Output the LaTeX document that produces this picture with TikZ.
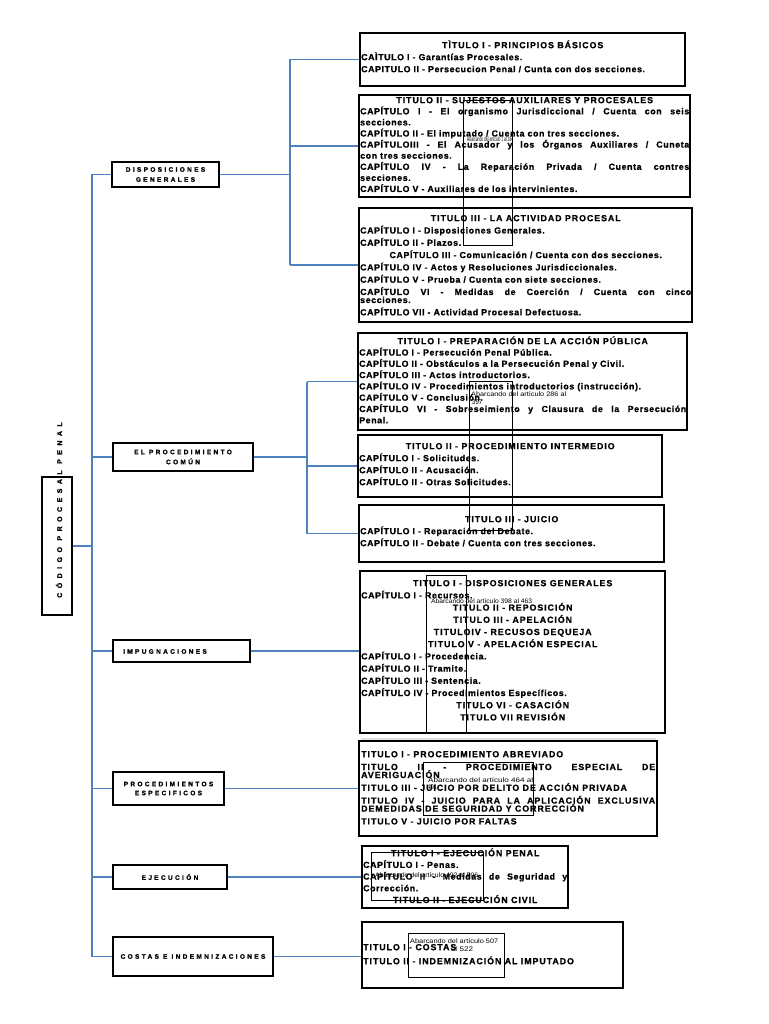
\documentclass[tikz,border=0pt]{standalone}
\usepackage{fontspec}
\usepackage{graphicx}
\setmainfont{Liberation Sans}
\newfontfamily\bodyf[LetterSpace=7,FakeBold=1]{Liberation Sans}
\newfontfamily\titf[LetterSpace=11,FakeBold=1]{Liberation Sans}
\newfontfamily\lonef[LetterSpace=36,FakeBold=1.2]{Liberation Sans}
\newfontfamily\rootf[LetterSpace=64,FakeBold=1.2]{Liberation Sans}
\definecolor{connblue}{RGB}{79,129,189}
\setlength\parindent{0pt}
\setlength\parskip{0pt}
\lineskiplimit=-20pt\relax
\newcommand\Fs{\vrule height8.5pt width0pt depth0pt\relax}
\newcommand\Tl[1]{\centerline{\titf #1}}
\newcommand\Cl[1]{\centerline{#1}}
\newcommand\Ln[1]{#1\par}
\newcommand\Lt[1]{{\titf #1\par}}
\newcommand\Wp[3]{\vskip#1pt{\baselineskip=#2pt\relax #3\par}}
\newcommand\Ab[2]{\resizebox{#1pt}{4.8pt}{#2}}
\newcommand\PsetB{\setlength\parskip{4.8pt}}
\tikzset{
  conn/.style={draw=connblue, line width=1.1pt},
  bx/.style={draw=black, line width=2pt, inner sep=0pt},
  ovb/.style={draw=black, line width=0.9pt, inner sep=0pt},
  lone/.style={bx, align=center, font=\lonef\bfseries\fontsize{6.5}{#1}\selectfont},
  lone/.default=9,
  tx/.style={inner sep=0pt, anchor=north west, align=justify,
    font=\bodyf\bfseries\fontsize{8.8}{#1}\selectfont},
  tx/.default=12,
  ovt/.style={inner sep=0pt, anchor=base west, font=\fontsize{6}{6}\selectfont},
}
\begin{document}
\begin{tikzpicture}[x=1pt,y=-1pt]
\useasboundingbox (0,0) rectangle (768,1024);

% root
\node[bx, minimum width=30pt, minimum height=138pt] (root) at (57,546) {};
\node[rotate=90, inner sep=0pt, font=\rootf\bfseries\fontsize{7}{8}\selectfont] (roott) at (59,510) {CÓDIGO PROCESAL PENAL};
\coordinate (tk) at (92,546);

% level 1
\node[lone=10, minimum width=107pt, minimum height=25pt] (dg) at (165.5,174.5) {DISPOSICIONES\\GENERALES};
\node[lone=10, minimum width=140pt, minimum height=28pt] (epc) at (183,457) {EL PROCEDIMIENTO\\COMÚN};
\node[bx, minimum width=137pt, minimum height=22pt] (imp) at (181.5,651) {};
\node[inner sep=0pt, font=\lonef\bfseries\fontsize{6.5}{9}\selectfont] (impt) at (165,651.5) {IMPUGNACIONES};
\node[lone=9, minimum width=111pt, minimum height=33pt] (pe) at (168.5,788.5) {PROCEDIMIENTOS\\ESPECIFICOS};
\node[lone, minimum width=114pt, minimum height=24pt] (ej) at (170,877) {EJECUCIÓN};
\node[lone, minimum width=160pt, minimum height=39pt] (cos) at (193,956.5) {COSTAS E INDEMNIZACIONES};

% level 2 boxes
\node[bx, minimum width=325pt, minimum height=53pt] (b1) at (522.5,59.5) {};
\node[bx, minimum width=331pt, minimum height=102pt] (b2) at (524.5,146) {};
\node[bx, minimum width=333pt, minimum height=114pt] (b3) at (525.5,265) {};
\node[bx, minimum width=329pt, minimum height=97pt] (b4) at (522.5,381.5) {};
\node[bx, minimum width=304pt, minimum height=62pt] (b5) at (510,466) {};
\node[bx, minimum width=305pt, minimum height=57pt] (b6) at (511.5,533.5) {};
\node[bx, minimum width=305pt, minimum height=162pt] (b7) at (512.5,652) {};
\draw[black!12, line width=1.2pt] ([xshift=2pt,yshift=-5pt]b7.south west) -- ([xshift=-10pt,yshift=-5pt]b7.south east);
\node[bx, minimum width=298pt, minimum height=95pt] (b8) at (508,788.5) {};
\node[bx, minimum width=206pt, minimum height=62pt] (b9) at (465,877) {};
\node[bx, minimum width=261pt, minimum height=66pt] (b10) at (492.5,955) {};

% connectors
\draw[conn] (root.east) -- (tk);
\draw[conn] (tk |- dg.west) -- (tk |- cos.west);
\foreach \n in {dg,epc,imp,pe,ej,cos} \draw[conn] (tk |- \n.west) -- (\n.west);
\coordinate (dgs) at (290,174.5);
\draw[conn] (dg.east) -- (dgs);
\draw[conn] (dgs |- b1.west) -- (dgs |- b3.west);
\foreach \n in {b1,b2,b3} \draw[conn] (dgs |- \n.west) -- (\n.west);
\coordinate (eps) at (307,457);
\draw[conn] (epc.east) -- (eps);
\draw[conn] (eps |- b4.west) -- (eps |- b6.west);
\foreach \n in {b4,b5,b6} \draw[conn] (eps |- \n.west) -- (\n.west);
\draw[conn] (imp.east) -- (imp.east -| b7.west);
\draw[conn] (pe.east) -- (pe.east -| b8.west);
\draw[conn] (ej.east) -- (ej.east -| b9.west);
\draw[conn] (cos.east) -- (cos.east -| b10.west);

% texts
\node[tx=12, text width=323pt] (t1) at (361,39.5) {%
\Tl{\Fs TÌTULO I - PRINCIPIOS BÁSICOS}
\Ln{CAÌTULO I - Garantías Procesales.}
\Ln{CAPITULO II - Persecucion Penal / Cunta con dos secciones.}};

\node[tx=11.1, text width=329pt] (t2) at (360,94.5) {%
\Tl{\Fs TITULO II - SUJESTOS AUXILIARES Y PROCESALES}
\Ln{CAPÍTULO I - El organismo Jurisdiccional / Cuenta con seis\linebreak secciones.}
\Ln{CAPÍTULO II - El imputado / Cuenta con tres secciones.}
\Ln{CAPÍTULOIII - El Acusador y los Órganos Auxiliares / Cuneta\linebreak con tres secciones.}
\Ln{CAPÍTULO IV - La Reparación Privada / Cuenta contres\linebreak secciones.}
\Ln{CAPÍTULO V - Auxiliares de los intervinientes.}};

\node[tx=12.3, text width=331pt] (t3) at (360,212.5) {%
\Tl{\Fs TITULO III - LA ACTIVIDAD PROCESAL}
\Ln{CAPÍTULO I - Disposiciones Generales.}
\Ln{CAPÍTULO II - Plazos.}
\Cl{CAPÍTULO III - Comunicación / Cuenta con dos secciones.}
\Ln{CAPÍTULO IV - Actos y Resoluciones Jurisdiccionales.}
\Ln{CAPÍTULO V - Prueba / Cuenta con siete secciones.}
\Wp{4.3}{8}{CAPÍTULO VI - Medidas de Coerción / Cuenta con cinco\linebreak secciones.}
\Ln{CAPÍTULO VII - Actividad Procesal Defectuosa.}};

\node[tx=11.3, text width=327pt] (t4) at (359,335.5) {%
\Tl{\Fs TITULO I - PREPARACIÓN DE LA ACCIÓN PÚBLICA}
\Ln{CAPÍTULO I - Persecución Penal Pública.}
\Ln{CAPÍTULO II - Obstáculos a la Persecución Penal y Civil.}
\Ln{CAPÍTULO III - Actos introductorios.}
\Ln{CAPÍTULO IV - Procedimientos introductorios (instrucción).}
\Ln{CAPÍTULO V - Conclusión.}
\Ln{CAPÍTULO VI - Sobreseimiento y Clausura de la Persecución\linebreak Penal.}};

\node[tx=12, text width=302pt] (t5) at (359,440.5) {%
\Tl{\Fs TITULO II - PROCEDIMIENTO INTERMEDIO}
\Ln{CAPÍTULO I - Solicitudes.}
\Ln{CAPÍTULO II - Acusación.}
\Ln{CAPÍTULO II - Otras Solicitudes.}};

\node[tx=12, text width=303pt] (t6) at (360,513.5) {%
\Tl{\Fs TITULO III - JUICIO}
\Ln{CAPÍTULO I - Reparación del Debate.}
\Ln{CAPÍTULO II - Debate / Cuenta con tres secciones.}};

\node[tx=12.2, text width=303pt] (t7) at (361,577.5) {%
\Tl{\Fs TITULO I - DISPOSICIONES GENERALES}
\Ln{CAPÍTULO I - Recursos.}
\Tl{TITULO II - REPOSICIÓN}
\Tl{TITULO III - APELACIÓN}
\Tl{TITULOIV - RECUSOS DEQUEJA}
\Tl{TITULO V - APELACIÓN ESPECIAL}
\Ln{CAPÍTULO I - Procedencia.}
\Ln{CAPÍTULO II - Tramite.}
\Ln{CAPÍTULO III - Sentencia.}
\Ln{CAPÍTULO IV - Procedimientos Específicos.}
\Tl{TITULO VI - CASACIÓN}
\Tl{TITULO VII REVISIÓN}};

\node[tx=8, text width=294pt] (t8) at (361,748.5) {\PsetB
\Lt{\Fs TITULO I - PROCEDIMIENTO ABREVIADO}
\Lt{TITULO II - PROCEDIMIENTO ESPECIAL DE\linebreak AVERIGUACIÓN}
\Lt{TITULO III - JUICIO POR DELITO DE ACCIÓN PRIVADA}
\Lt{TITULO IV - JUICIO PARA LA APLICACIÓN EXCLUSIVA\linebreak DEMEDIDAS DE SEGURIDAD Y CORRECCIÓN}
\Lt{TITULO V - JUICIO POR FALTAS}};

\node[tx=11.7, text width=204pt] (t9) at (363,847.5) {%
\Tl{\Fs TITULO I - EJECUCIÓN PENAL}
\Ln{CAPÍTULO I - Penas.}
\Ln{CAPÍTULO II - Medidas de Seguridad y\linebreak Corrección.}
\Tl{TITULO II - EJECUCIÓN CIVIL}};

\node[tx=14, text width=258pt] (t10) at (363,941.5) {%
\Lt{\Fs TITULO I - COSTAS}
\Lt{TITULO II - INDEMNIZACIÓN AL IMPUTADO}};

% overlay boxes
\node[ovb, minimum width=49pt, minimum height=145pt] (oa) at (487.5,172.5) {};
\node[ovb, minimum width=43pt, minimum height=149pt] (ob) at (490.5,455.5) {};
\node[ovb, minimum width=40pt, minimum height=157pt] (oc) at (446,653.5) {};
\node[ovb, minimum width=110pt, minimum height=53pt] (od) at (478,788.5) {};
\node[ovb, minimum width=112pt, minimum height=48pt] (oe) at (427,876) {};
\node[ovb, minimum width=96pt, minimum height=44pt] (of) at (456,955) {};

\node[ovt] (oat) at (467,142) {\Ab{46}{Abarcando del artículo 1 al 284}};
\node[ovt] (obt) at (471,396) {\Ab{95}{Abarcando del artículo 286 al}};
\node[ovt] (obt2) at (472,404) {\Ab{10}{397}};
\node[ovt] (oct) at (431,603) {\Ab{101}{Abarcando del artículo 398 al 463}};
\node[ovt] (odt) at (428,782) {\Ab{105}{Abarcando del artículo 464 al}};
\node[ovt] (odt2) at (427,789) {\Ab{10}{491}};
\node[ovt] (oet) at (375,877) {\Ab{103}{Abarcando del artículo 492 al 506}};
\node[ovt] (oft) at (410,943) {\Ab{88}{Abarcando del artículo 507}};
\node[ovt, anchor=base] (oft2) at (462,951) {\Ab{22}{al 522}};
\end{tikzpicture}
\end{document}
